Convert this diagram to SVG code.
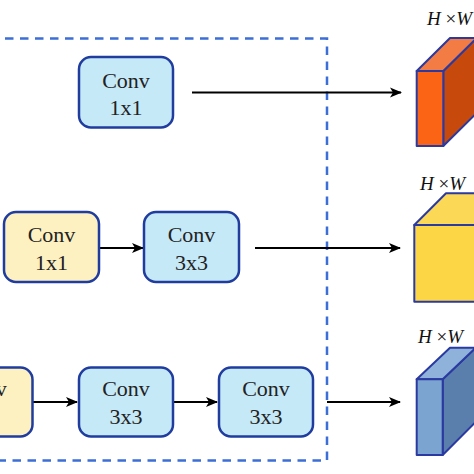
<svg xmlns="http://www.w3.org/2000/svg" width="474" height="474" viewBox="0 0 474 474">
<style>
.box{stroke:#1f3c9e;stroke-width:2.5}
.blue{fill:#c6e9f8}
.yel{fill:#fdf1c2}
.t{font-family:"Liberation Serif","Times New Roman",serif;font-size:22px;fill:#222;text-anchor:middle}
.lbl{font-family:"Liberation Serif","Times New Roman",serif;font-size:19px;fill:#111}
.cub{stroke:#2a3aa0;stroke-width:2;stroke-linejoin:round}
.conn{stroke:#000;stroke-width:2;fill:none;marker-end:url(#ah)}
</style>
<defs>
<marker id="ah" viewBox="0 0 12 12" refX="11" refY="6" markerWidth="12" markerHeight="12" markerUnits="userSpaceOnUse" orient="auto">
<path d="M0,1 L12,6 L0,11 L3,6 Z" fill="#000"/>
</marker>
</defs>
<rect width="474" height="474" fill="#fff"/>
<g id="frame">
<path d="M-10,38.5 H327 V460.5 H-10" fill="none" stroke="#3b6ed6" stroke-width="2.5" stroke-dasharray="8.5,6.5"/>
</g>
<g id="connectors">
<line class="conn" x1="192" y1="92.5" x2="401" y2="92.5"/>
<line class="conn" x1="99" y1="248" x2="143" y2="248"/>
<line class="conn" x1="255" y1="248" x2="400" y2="248"/>
<line class="conn" x1="32" y1="402" x2="77" y2="402"/>
<line class="conn" x1="173" y1="402" x2="217" y2="402"/>
<line class="conn" x1="327" y1="402" x2="400" y2="402"/>
</g>
<g id="n1">
<rect class="box blue" x="79" y="57" width="94" height="70.5" rx="12"/>
<text class="t" x="126" y="87.5">Conv</text>
<text class="t" x="126" y="115">1x1</text>
</g>
<g id="n2">
<rect class="box yel" x="4" y="212" width="95" height="70" rx="12"/>
<text class="t" x="51.5" y="241.5">Conv</text>
<text class="t" x="51.5" y="269.5">1x1</text>
</g>
<g id="n3">
<rect class="box blue" x="144" y="212" width="95" height="70" rx="12"/>
<text class="t" x="191.5" y="241.5">Conv</text>
<text class="t" x="191.5" y="269.5">3x3</text>
</g>
<g id="n4">
<rect class="box yel" x="-64" y="367.5" width="96.5" height="69" rx="12"/>
<text class="t" x="-17" y="396">Conv</text>
<text class="t" x="-17" y="423.5">1x1</text>
</g>
<g id="n5">
<rect class="box blue" x="79" y="367.5" width="94" height="69" rx="12"/>
<text class="t" x="126" y="396">Conv</text>
<text class="t" x="126" y="423.5">3x3</text>
</g>
<g id="n6">
<rect class="box blue" x="219" y="367.5" width="94" height="69" rx="12"/>
<text class="t" x="266" y="396">Conv</text>
<text class="t" x="266" y="423.5">3x3</text>
</g>
<g id="out1">
<polygon class="cub" fill="#c74a0c" points="443.3,71 476.6,38 476.6,113 443.3,146"/>
<polygon class="cub" fill="#f27c44" points="416.7,71 443.3,71 476.6,38 450,38"/>
<rect class="cub" fill="#fb6415" x="416.7" y="71" width="26.6" height="75"/>
<text class="lbl" x="427" y="25"><tspan font-style="italic">H</tspan> ×<tspan font-style="italic">W</tspan></text>
</g>
<g id="out2">
<polygon class="cub" fill="#fbd957" points="414.3,225 520,225 552,193.3 446,193.3"/>
<rect class="cub" fill="#fdd645" x="414.3" y="225" width="100" height="76.7"/>
<text class="lbl" x="420" y="190"><tspan font-style="italic">H</tspan> ×<tspan font-style="italic">W</tspan></text>
</g>
<g id="out3">
<polygon class="cub" fill="#5b7fad" points="442.7,379.3 475.7,347.7 475.7,422 442.7,455"/>
<polygon class="cub" fill="#8eb2da" points="416.7,379.3 442.7,379.3 475.7,347.7 450,347.7"/>
<rect class="cub" fill="#7ba4d0" x="416.7" y="379.3" width="26" height="75.7"/>
<text class="lbl" x="418" y="343"><tspan font-style="italic">H</tspan> ×<tspan font-style="italic">W</tspan></text>
</g>
</svg>
